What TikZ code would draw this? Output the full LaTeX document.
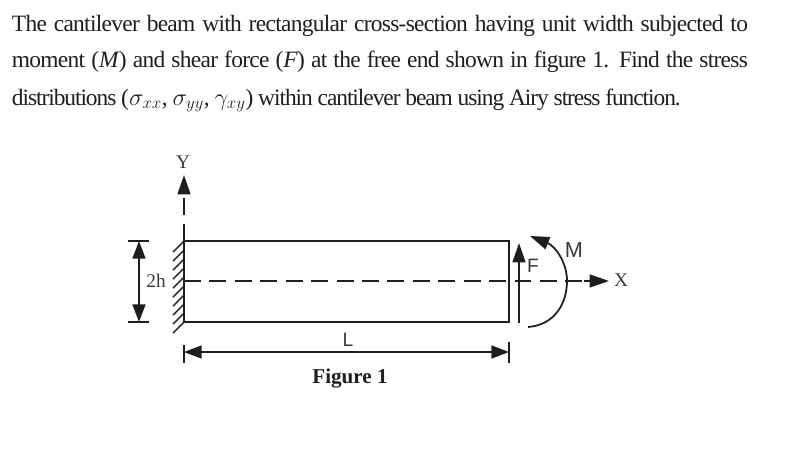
\documentclass[tikz,border=0pt]{standalone}
\usepackage{fontspec}
\setmainfont{Liberation Serif}
\setsansfont{Liberation Sans}
\usetikzlibrary{arrows.meta}
\definecolor{ink}{HTML}{1E1E1E}
\definecolor{lab}{HTML}{3A3A3A}
\begin{document}
\begin{tikzpicture}[x=0.03cm, y=-0.03cm, line width=1.5pt, draw=ink, text=ink,
	line1/.style = {anchor=base west, inner sep=0pt, font=\addfontfeatures{LetterSpace=-3}\fontsize{20}{22}\selectfont},
	line3/.style = {anchor=base west, inner sep=0pt, font=\addfontfeatures{LetterSpace=-4.5}\fontsize{20}{22}\selectfont},
	lab/.style = {inner sep=0pt, text=lab, font=\fontsize{16.5}{18}\selectfont},
	labs/.style = {inner sep=0pt, text=lab, font=\fontsize{16.5}{18}\sffamily\selectfont},
	dim/.style = {{Triangle[length=15pt,width=11pt]}-{Triangle[length=15pt,width=11pt]}},
	tip/.style = {-{Triangle[length=16.5pt,width=11pt]}},
	axis/.style = {dash pattern=on 14.5pt off 7.2pt}]
	\useasboundingbox (0,0) rectangle (785,467);

	% text
	\node[line1] (t1) at (11,31) {\makebox[22.08cm][s]{The cantilever beam with rectangular cross-section having unit width subjected to}};
	\node[line1] (t2) at (11,67) {\makebox[22.08cm][s]{moment (\textit{M}) and shear force (\textit{F}) at the free end shown in figure 1. Find the stress}};
	\node[line3] (t3) at (11,105) {distributions ($\sigma_{xx}$, $\sigma_{yy}$, $\gamma_{xy}$) within cantilever beam using Airy stress function.};

	% beam
	\coordinate (tl) at (184,241);
	\coordinate (tr) at (509,241);
	\coordinate (br) at (509,322);
	\coordinate (bl) at (184,322);
	\coordinate (wall) at (184,224);
	\coordinate (ytip) at (184,175);
	\coordinate (o) at (184,281);
	\coordinate (xend) at (584,281);
	\coordinate (xtip) at (609,281);
	\draw (wall) -- (bl) -- (br) -- (tr) -- (tl);
	\draw[axis] (o) -- (xend);
	\draw[tip] (xend) -- (xtip);
	\draw[tip, dash pattern=on 0pt off 7.7pt on 14.5pt off 40pt] (wall) -- (ytip);
	\foreach \y in {241,250,...,322}
		\draw[line width=1.2pt] (184,\y) -- ++(-11,11);

	% 2h
	\coordinate (h1) at (128,241);
	\coordinate (h2) at (149,241);
	\coordinate (h3) at (128,322);
	\coordinate (h4) at (149,322);
	\coordinate (ha) at (139,241);
	\coordinate (hb) at (139,322);
	\draw (h1) -- (h2);
	\draw (h3) -- (h4);
	\draw[dim] (ha) -- (hb);
	\node[lab] (hlab) at (156,281) {2h};

	% L
	\coordinate (la) at (184,352);
	\coordinate (lb) at (509,352);
	\draw (184,345) -- (184,363);
	\draw (509,342) -- (509,363);
	\draw[dim] (la) -- (lb);
	\node[labs] (llab) at (348,340) {L};
	\node[inner sep=0pt, font=\fontsize{18}{20}\bfseries\selectfont] (cap) at (350,379) {Figure 1};

	% load
	\coordinate (fb) at (519,323);
	\coordinate (ft) at (519,243);
	\coordinate (ma) at (528,327);
	\coordinate (mb) at (530,236);
	\draw[tip] (fb) -- (ft);
	\draw[-{Triangle[length=16.5pt,width=11pt]}] (ma) .. controls (555,325) and (567,303) .. (567,281) .. controls (567,262) and (555,246) .. (mb);
	\node[labs] (flab) at (533,266) {F};
	\node[labs, font=\fontsize{18.5}{20}\sffamily\selectfont] (mlab) at (574,250) {M};
	\node[lab] (ylab) at (183,162) {Y};
	\node[lab] (xlab) at (621,280) {X};
\end{tikzpicture}
\end{document}
